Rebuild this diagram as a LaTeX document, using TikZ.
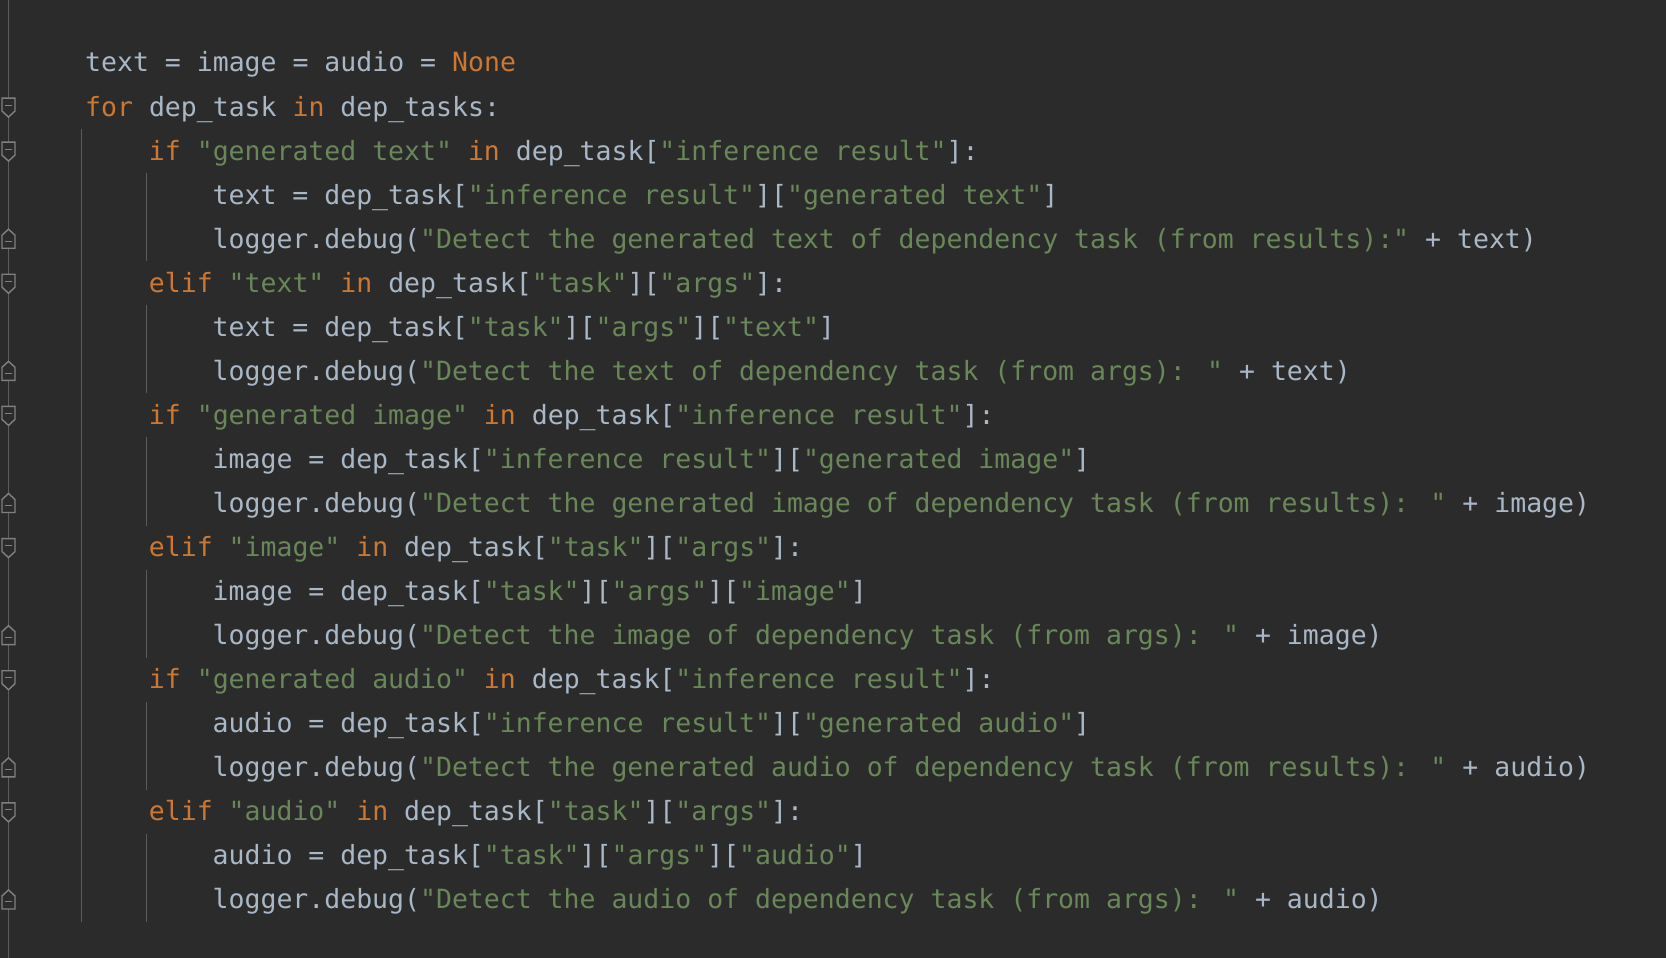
\documentclass[tikz,border=0pt]{standalone}
\usepackage{fontspec}
\newfontfamily\codefont{DejaVu Sans Mono}
\definecolor{bg}{HTML}{2B2B2B}
\definecolor{fg}{HTML}{A9B7C6}
\definecolor{kw}{HTML}{CC7832}
\definecolor{st}{HTML}{6A8759}
\definecolor{gut}{HTML}{5A5D5F}
\definecolor{fold}{HTML}{808080}
\newcommand\Kw[1]{\textcolor{kw}{#1}}
\newcommand\St[1]{\textcolor{st}{#1}}
\tikzset{code/.style={anchor=base west,inner sep=0pt,text=fg,font=\codefont\fontsize{26.5}{30}\selectfont},
guide/.style={draw=gut,line width=1pt},
foldo/.style={draw=fold,line width=1.4pt,fill=bg},
}
\begin{document}
\begin{tikzpicture}[x=1pt,y=-1pt]
\fill[bg] (0,0) rectangle (1666,958);
\useasboundingbox (0,0) rectangle (1666,958);
\def\Y#1{\fpeval{63+(#1-1)*44.05}}
\draw[gut,line width=1.5pt] (8.5,0) -- (8.5,958);
% indent guides
\draw[guide] (81,{\Y{3}-22}) -- (81,{\Y{20}+22});
\foreach \a in {4,7,10,13,16,19}{\draw[guide] (146,{\Y{\a}-22}) -- (146,{\Y{\a+1}+22});}
% fold markers
\foreach \l in {2,3,6,9,12,15,18}{\draw[foldo] (2,{\Y{\l}-9}) -- (15,{\Y{\l}-9}) -- (15,{\Y{\l}+4}) -- (8.5,{\Y{\l}+10}) -- (2,{\Y{\l}+4}) -- cycle; \draw[fold,line width=1pt] (5,{\Y{\l}-2}) -- (12,{\Y{\l}-2});}
\foreach \l in {5,8,11,14,17,20}{\draw[foldo] (2,{\Y{\l}+9}) -- (15,{\Y{\l}+9}) -- (15,{\Y{\l}-4}) -- (8.5,{\Y{\l}-10}) -- (2,{\Y{\l}-4}) -- cycle; \draw[fold,line width=1pt] (5,{\Y{\l}+2}) -- (12,{\Y{\l}+2});}
\def\xa{85}\def\xb{148.75}\def\xc{212.5}
\def\B#1{\fpeval{63+(#1-1)*44.05+9}}
\node[code] (l1) at (\xa,\B{1}) {text = image = audio = \Kw{None}};
\node[code] (l2) at (\xa,\B{2}) {\Kw{for} dep\_task \Kw{in} dep\_tasks:};
\node[code] (l3) at (\xb,\B{3}) {\Kw{if} \St{"generated text"} \Kw{in} dep\_task[\St{"inference result"}]:};
\node[code] (l4) at (\xc,\B{4}) {text = dep\_task[\St{"inference result"}][\St{"generated text"}]};
\node[code] (l5) at (\xc,\B{5}) {logger.debug(\St{"Detect the generated text of dependency task (from results):"} + text)};
\node[code] (l6) at (\xb,\B{6}) {\Kw{elif} \St{"text"} \Kw{in} dep\_task[\St{"task"}][\St{"args"}]:};
\node[code] (l7) at (\xc,\B{7}) {text = dep\_task[\St{"task"}][\St{"args"}][\St{"text"}]};
\node[code] (l8) at (\xc,\B{8}) {logger.debug(\St{"Detect the text of dependency task (from args): "} + text)};
\node[code] (l9) at (\xb,\B{9}) {\Kw{if} \St{"generated image"} \Kw{in} dep\_task[\St{"inference result"}]:};
\node[code] (l10) at (\xc,\B{10}) {image = dep\_task[\St{"inference result"}][\St{"generated image"}]};
\node[code] (l11) at (\xc,\B{11}) {logger.debug(\St{"Detect the generated image of dependency task (from results): "} + image)};
\node[code] (l12) at (\xb,\B{12}) {\Kw{elif} \St{"image"} \Kw{in} dep\_task[\St{"task"}][\St{"args"}]:};
\node[code] (l13) at (\xc,\B{13}) {image = dep\_task[\St{"task"}][\St{"args"}][\St{"image"}]};
\node[code] (l14) at (\xc,\B{14}) {logger.debug(\St{"Detect the image of dependency task (from args): "} + image)};
\node[code] (l15) at (\xb,\B{15}) {\Kw{if} \St{"generated audio"} \Kw{in} dep\_task[\St{"inference result"}]:};
\node[code] (l16) at (\xc,\B{16}) {audio = dep\_task[\St{"inference result"}][\St{"generated audio"}]};
\node[code] (l17) at (\xc,\B{17}) {logger.debug(\St{"Detect the generated audio of dependency task (from results): "} + audio)};
\node[code] (l18) at (\xb,\B{18}) {\Kw{elif} \St{"audio"} \Kw{in} dep\_task[\St{"task"}][\St{"args"}]:};
\node[code] (l19) at (\xc,\B{19}) {audio = dep\_task[\St{"task"}][\St{"args"}][\St{"audio"}]};
\node[code] (l20) at (\xc,\B{20}) {logger.debug(\St{"Detect the audio of dependency task (from args): "} + audio)};
\end{tikzpicture}
\end{document}
